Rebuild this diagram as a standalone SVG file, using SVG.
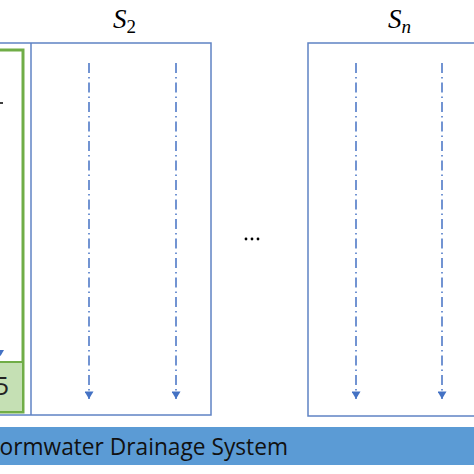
<svg xmlns="http://www.w3.org/2000/svg" width="474" height="474" viewBox="0 0 474 474">
<style>
.box{fill:none;stroke:#5f83c4;stroke-width:1.5}
.flow{fill:none;stroke:#4472c4;stroke-width:1.5;stroke-dasharray:10 4 1.5 4}
.lbl{font-family:"Liberation Serif",serif;font-style:italic;font-size:27px;fill:#000}
.sub{font-size:19px}
.sub2{font-style:normal}
</style>
<defs>
<marker id="ah" viewBox="0 0 10 12" refX="10" refY="6" markerWidth="11" markerHeight="9" markerUnits="userSpaceOnUse" orient="auto">
<path d="M0,0 L10,6 L0,12 z" fill="#4472c4"/>
</marker>
</defs>
<rect width="474" height="474" fill="#ffffff"/>
<g id="s2">
<rect class="box" x="-5" y="43" width="216" height="372"/>
<line x1="31" y1="43" x2="31" y2="415" stroke="#5f83c4" stroke-width="1.5"/>
<text class="lbl" x="113" y="28">S<tspan class="sub sub2" dy="5">2</tspan></text>
</g>
<g id="s1">
<rect x="-10" y="50" width="33" height="362" fill="none" stroke="#70ad47" stroke-width="3"/>
<rect x="-10" y="362" width="33" height="50" fill="#c5e0b4" stroke="#70ad47" stroke-width="2"/>
<text x="9" y="395" font-family="Open Sans, sans-serif" font-size="26" fill="#222" text-anchor="end">5</text>
<line x1="0" y1="103" x2="3" y2="103" stroke="#000" stroke-width="1.5"/>
<path d="M-3,350 L4,350 L0.5,356 z" fill="#4472c4"/>
</g>
<g id="sn">
<rect class="box" x="308" y="43" width="180" height="373"/>
<text class="lbl" x="388" y="28">S<tspan class="sub" dy="5">n</tspan></text>
</g>
<g id="ellipsis">
<circle cx="246" cy="239" r="1.4" fill="#000"/>
<circle cx="252" cy="239" r="1.4" fill="#000"/>
<circle cx="258" cy="239" r="1.4" fill="#000"/>
</g>
<g id="connectors">
<line class="flow" x1="89" y1="63" x2="89" y2="399" marker-end="url(#ah)"/>
<line class="flow" x1="176" y1="63" x2="176" y2="399" marker-end="url(#ah)"/>
<line class="flow" x1="356" y1="63" x2="356" y2="399" marker-end="url(#ah)"/>
<line class="flow" x1="442" y1="63" x2="442" y2="399" marker-end="url(#ah)"/>
</g>
<g id="drainage">
<rect x="-5" y="427" width="484" height="38" fill="#5b9bd5"/>
<text x="288" y="455" font-family="Open Sans, sans-serif" font-size="24" fill="#111" text-anchor="end" textLength="309" lengthAdjust="spacingAndGlyphs">Stormwater Drainage System</text>
</g>
</svg>
